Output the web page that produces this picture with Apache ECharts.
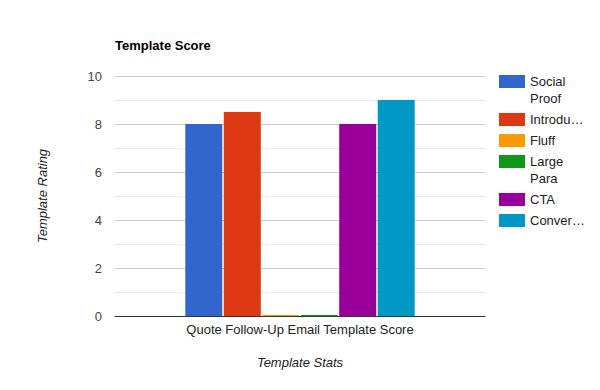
<!DOCTYPE html>
<html>
<head>
<meta charset="utf-8">
<script src="https://cdn.jsdelivr.net/npm/echarts@6/dist/echarts.min.js"></script>
<style>
  html, body { margin: 0; padding: 0; background: #fff; }
  #chart { width: 600px; height: 390px; }
</style>
</head>
<body>
<div id="chart"></div>
<script>
var categories = ['Quote Follow-Up Email Template Score'];
var seriesNames = ['Social Proof', 'Introduction', 'Fluff', 'Large Para', 'CTA', 'Conversion'];
var legendLabels = ['Social\nProof', 'Introdu\u2026', 'Fluff', 'Large\nPara', 'CTA', 'Conver\u2026'];
var seriesValues = [[8], [8.5], [0], [0], [8], [9]];
var colors = ['#3366cc', '#dc3912', '#ff9900', '#109618', '#990099', '#0099c6'];

// legend rows: icon top of each entry on the right
var legendIconTops = [75, 113, 134, 155, 193, 214];

var font = 'Liberation Sans, Arial, sans-serif';
var chart = echarts.init(document.getElementById('chart'), null, { renderer: 'svg' });

// two-line labels get a blank first line so the icon sits beside the first text line
var legends = seriesNames.map(function(name, i) {
  var twoLines = legendLabels[i].indexOf('\n') >= 0;
  return {
    data: [name],
    orient: 'vertical',
    left: 499,
    top: legendIconTops[i] - (twoLines ? 19 : 2),
    padding: 0,
    icon: 'rect',
    itemWidth: 26,
    itemHeight: 13,
    selectedMode: false,
    formatter: function() { return twoLines ? ' \n' + legendLabels[i] : legendLabels[i]; },
    textStyle: {
      color: '#222',
      fontSize: 13,
      fontFamily: font,
      lineHeight: 17
    }
  };
});

chart.setOption({
  animation: false,
  title: {
    text: 'Template Score',
    left: 110,
    top: 34,
    textStyle: { fontSize: 13, fontWeight: 'bold', color: '#000', fontFamily: font }
  },
  legend: legends,
  grid: { left: 115, right: 115, top: 76, bottom: 74, containLabel: false },
  xAxis: {
    type: 'category',
    data: categories,
    name: 'Template Stats',
    nameLocation: 'middle',
    nameGap: 40,
    nameTextStyle: { fontStyle: 'italic', fontSize: 13, color: '#222', fontFamily: font },
    axisLine: { lineStyle: { color: '#333', width: 1 } },
    axisTick: { show: false },
    axisLabel: { color: '#222', fontSize: 13, margin: 7, fontFamily: font }
  },
  yAxis: {
    type: 'value',
    min: 0,
    max: 10,
    interval: 2,
    name: 'Template Rating',
    nameLocation: 'middle',
    nameGap: 66,
    nameTextStyle: { fontStyle: 'italic', fontSize: 13, color: '#222', fontFamily: font },
    axisLine: { show: false },
    axisTick: { show: false },
    axisLabel: { color: '#444', fontSize: 13, margin: 13, fontFamily: font },
    splitLine: { lineStyle: { color: '#cccccc' } },
    minorTick: { show: false, splitNumber: 2 },
    minorSplitLine: { show: true, lineStyle: { color: '#ebebeb' } }
  },
  series: seriesNames.map(function(name, i) {
    return {
      name: name,
      type: 'bar',
      data: seriesValues[i],
      barWidth: 37,
      barGap: '4%',
      barMinHeight: 1,
      itemStyle: { color: colors[i] }
    };
  })
});
</script>
</body>
</html>
